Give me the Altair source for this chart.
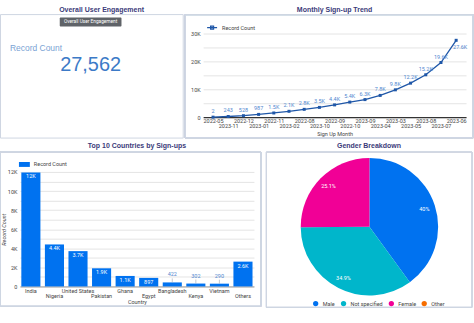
import json
import altair as alt
import pandas as pd

# ---------------- data ----------------
months = ["2022-05", "2023-11", "2022-12", "2023-01", "2022-11", "2023-02", "2022-08",
          "2023-10", "2022-09", "2022-10", "2023-09", "2023-04", "2023-03", "2023-05",
          "2023-08", "2023-07", "2023-06"]
monthly_counts = [2, 243, 528, 987, 1500, 2100, 2800, 3500, 4400, 5400, 6300, 7800,
                  9800, 12200, 15200, 19600, 27562]

countries = ["India", "Nigeria", "United States", "Pakistan", "Ghana", "Egypt",
             "Bangladesh", "Kenya", "Vietnam", "Others"]
country_counts = [11951, 4400, 3700, 1900, 1100, 897, 422, 302, 290, 2600]

genders = ["Male", "Not specified", "Female", "Other"]
gender_counts = [11025, 9619, 6916, 2]
gender_colors = ["#0072f0", "#00b6cb", "#f10096", "#f66d00"]

kpi_label = "Record Count"
kpi_value = 27562
kpi_tip = "Overall User Engagement"

# ---------------- style ----------------
FONT = "Roboto"
TFONT = "Liberation Sans"
TITLE_COLOR = "#3b3b7a"
BORDER = "#cfd6e2"
LINE_BLUE = "#1f57a8"
LABEL_BLUE = "#4f86cf"
BAR_BLUE = "#0072f0"
TOP_OFF = 1.5
BOT_OFF = 3


def fmt_expr(f):
    return (f"datum.{f} >= 1000 ? replace(format(datum.{f}, '.3~s'), 'k', 'K') "
            f": format(datum.{f}, 'd')")


def title(text, offset):
    return alt.Title(text, font=TFONT, fontSize=7, fontWeight="bold",
                     color=TITLE_COLOR, offset=offset, anchor="middle")


def card(df, x1, x2, y1, y2):
    return alt.Chart(df).mark_rect(fillOpacity=0, stroke=BORDER, strokeWidth=1).encode(
        x=alt.value(x1), x2=alt.value(x2), y=alt.value(y1), y2=alt.value(y2))


# ---------------- KPI panel (origin at x=20) ----------------
kpi_df = pd.DataFrame({"label": [kpi_label], "value": [kpi_value], "tip": [kpi_tip]})
kb = alt.Chart(kpi_df)
kpi_card = card(kpi_df, -19.5, 164, -19, 105)
kpi_tipbox = kb.mark_rect(fill="#5f6368", cornerRadius=1).encode(
    x=alt.value(40), x2=alt.value(102), y=alt.value(-16), y2=alt.value(-7))
kpi_tiptext = kb.mark_text(color="white", fontSize=4.8, font=FONT).encode(
    x=alt.value(71), y=alt.value(-11.5), text="tip:N")
kpi_lab = kb.mark_text(align="left", baseline="middle", fontSize=8.5, font=TFONT,
                       color="#7aa3d4").encode(
    x=alt.value(-10), y=alt.value(15), text="label:N")
kpi_val = kb.transform_calculate(vt="format(datum.value, ',')").mark_text(
    align="center", baseline="middle", fontSize=20, font=TFONT, color="#3c7ac7").encode(
    x=alt.value(71), y=alt.value(32), text="vt:N")
kpi = alt.layer(kpi_card, kpi_tipbox, kpi_tiptext, kpi_lab, kpi_val).properties(
    width=164, height=84, title=title("Overall User Engagement", TOP_OFF))

# ---------------- line panel ----------------
line_df = pd.DataFrame({"month": months, "signups": monthly_counts})
lb = alt.Chart(line_df).transform_calculate(
    line_series="'Record Count'", lbl=fmt_expr("signups"))
odd_months = json.dumps(months[1::2])
lx = alt.X("month:N", sort=months, scale=alt.Scale(padding=0.65),
           axis=alt.Axis(title="Sign Up Month", labelAngle=0, ticks=False, grid=False,
                         labelExpr=f"indexof({odd_months}, datum.value) >= 0 ? ['', datum.label] : datum.label",
                         labelFontSize=5.5, labelLineHeight=5.5, labelPadding=1,
                         domainColor="#333333", domainWidth=1.2,
                         titleFontSize=5.5, titlePadding=2, titleFontWeight="normal"))
ly = alt.Y("signups:Q", scale=alt.Scale(domain=[0, 30000]),
           axis=alt.Axis(title=None, values=list(range(0, 30001, 5000)),
                         labelExpr="datum.value % 10000 == 0 ? (datum.value == 0 ? '0' : (datum.value / 1000) + 'K') : ''",
                         ticks=False, domain=False, gridColor="#e4e4e4",
                         labelFontSize=5.5, labelPadding=3, minExtent=14, maxExtent=14))
line_card = card(line_df, -18, 271, -19, 105)
line_mark = lb.mark_line(strokeWidth=1.3).encode(
    x=lx, y=ly,
    color=alt.Color("line_series:N", scale=alt.Scale(range=[LINE_BLUE]),
                    legend=alt.Legend(title=None, orient="none", legendX=3, legendY=-12,
                                      symbolType="M-1,0H1M-0.3,-0.3H0.3V0.3H-0.3Z",
                                      symbolSize=100, symbolStrokeWidth=1.2,
                                      labelFontSize=5.5, labelFont=FONT)))
line_pts = lb.mark_point(filled=True, shape="square", size=9, color=LINE_BLUE, opacity=1).encode(
    x=lx, y=ly)
line_lbl = lb.transform_filter("datum.signups < 25000").mark_text(
    dy=-6, fontSize=5.5, color=LABEL_BLUE, font=FONT).encode(x=lx, y=ly, text="lbl:N")
line_lbl_last = lb.transform_filter("datum.signups >= 25000").mark_text(
    dx=4, dy=7, fontSize=5.5, color=LABEL_BLUE, font=FONT).encode(x=lx, y=ly, text="lbl:N")
line = alt.layer(line_card, line_mark, line_pts, line_lbl, line_lbl_last).properties(
    width=264, height=84, title=title("Monthly Sign-up Trend", TOP_OFF))

# ---------------- bar panel ----------------
bar_df = pd.DataFrame({"country": countries, "users": country_counts})
bb = alt.Chart(bar_df).transform_calculate(
    bar_series="'Record Count'", lbl=fmt_expr("users"), lead="datum.users + 420")
odd_c = json.dumps(countries[1::2])
bx = alt.X("country:N", sort=countries,
           scale=alt.Scale(paddingInner=0.19, paddingOuter=0.06),
           axis=alt.Axis(title="Country", labelAngle=0, ticks=False,
                         labelExpr=f"indexof({odd_c}, datum.value) >= 0 ? ['', datum.label] : datum.label",
                         labelFontSize=5.5, labelLineHeight=5.5, labelPadding=2,
                         domainColor="#9a9a9a", titleFontSize=5.5, titlePadding=0.5,
                         titleFontWeight="normal"))
by = alt.Y("users:Q", scale=alt.Scale(domain=[0, 12000]),
           axis=alt.Axis(title="Record Count", titleFontStyle="italic",
                         titleFontWeight="normal", titleFontSize=5.5, titlePadding=2,
                         values=list(range(0, 12001, 1000)),
                         labelExpr="datum.value % 2000 == 0 ? (datum.value == 0 ? '0' : (datum.value / 1000) + 'K') : ''",
                         ticks=False, domain=False, gridColor="#e4e4e4",
                         labelFontSize=5.5, labelPadding=3, minExtent=11, maxExtent=11))
bar_card = card(bar_df, -19.5, 242, -20, 135)
bars = bb.mark_bar().encode(
    x=bx, y=by,
    color=alt.Color("bar_series:N", scale=alt.Scale(range=[BAR_BLUE]),
                    legend=alt.Legend(title=None, orient="none", legendX=-1, legendY=-13,
                                      symbolType="M-1,-0.45H1V0.45H-1Z", symbolSize=120,
                                      symbolStrokeWidth=0,
                                      labelFontSize=5.5, labelFont=FONT)))
bar_in = bb.transform_filter("datum.users >= 800").mark_text(
    baseline="top", dy=2, fontSize=5.5, color="white", font=FONT).encode(
    x=bx, y=by, text="lbl:N")
bar_out = bb.transform_filter("datum.users < 800").mark_text(
    baseline="bottom", dy=-5, fontSize=5.5, color=LABEL_BLUE, font=FONT).encode(
    x=bx, y=by, text="lbl:N")
bar_lead = bb.transform_filter("datum.users < 800").mark_rule(
    color="#9aa5b5", strokeWidth=0.6).encode(x=bx, y=by, y2="lead:Q")
bar = alt.layer(bar_card, bars, bar_in, bar_out, bar_lead).properties(
    width=235, height=115, title=title("Top 10 Countries by Sign-ups", BOT_OFF))

# ---------------- pie panel ----------------
pie_df = pd.DataFrame({"gender": genders, "people": gender_counts,
                       "ord": list(range(len(genders)))})
pb = alt.Chart(pie_df).transform_joinaggregate(total="sum(people)").transform_calculate(
    pct="datum.people / datum.total",
    plbl="datum.people / datum.total > 0.01 ? format(datum.people / datum.total, '.1~%') : ''")
theta = alt.Theta("people:Q", stack=True)
pcolor = alt.Color("gender:N", sort=genders,
                   scale=alt.Scale(domain=genders, range=gender_colors),
                   legend=alt.Legend(title=None, orient="none", direction="horizontal",
                                     legendX=47, legendY=129, symbolType="circle",
                                     symbolSize=28, labelFontSize=5.5, labelFont=FONT,
                                     columnPadding=5, symbolStrokeWidth=0))
pie_card = card(pie_df, 0.5, 207, -20, 136)
arcs = pb.mark_arc(radius=69).encode(
    theta=theta, color=pcolor, order=alt.Order("ord:Q"),
    x=alt.value(104), y=alt.value(55))
plabels = pb.mark_text(radius=58, fontSize=5.5, color="white", font=FONT).encode(
    theta=theta, order=alt.Order("ord:Q"), text="plbl:N",
    x=alt.value(104), y=alt.value(55))
pie = alt.layer(pie_card, arcs, plabels).properties(
    width=207, height=115, title=title("Gender Breakdown", BOT_OFF))

# ---------------- compose ----------------
top = alt.hconcat(kpi, line, spacing=0).resolve_scale(color="independent").resolve_legend(color="independent")
bottom = alt.hconcat(bar, pie, spacing=4).resolve_scale(color="independent").resolve_legend(color="independent")
chart = alt.vconcat(top, bottom, spacing=2).resolve_scale(
    color="independent").resolve_legend(color="independent").properties(
    padding={"top": 5, "left": 0, "right": 0, "bottom": 0},
    background="white"
).configure_view(stroke=None).configure_axis(
    labelFont=FONT, titleFont=FONT, labelColor="#444444", titleColor="#444444"
).configure_legend(labelColor="#444444")

chart.save("out.html", embed_options={"renderer": "svg", "actions": False})
